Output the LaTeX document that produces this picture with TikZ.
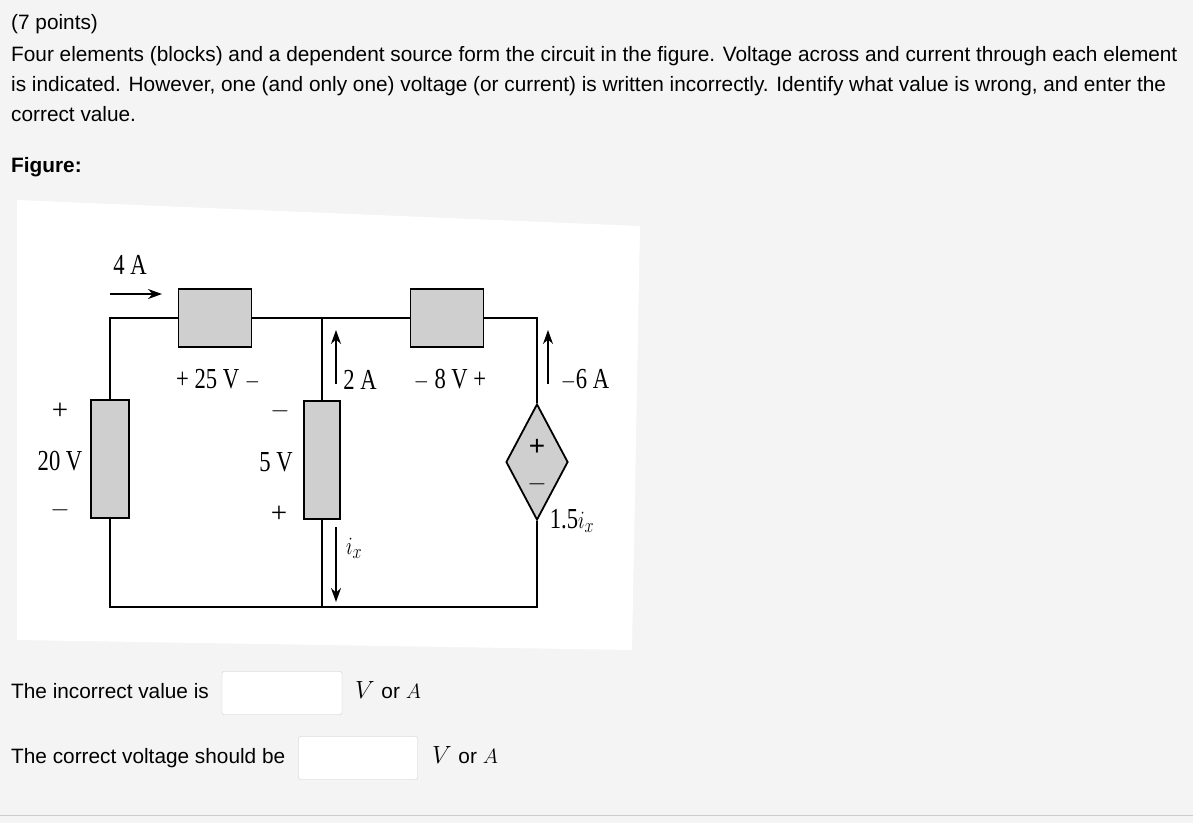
\documentclass[tikz,border=0pt]{standalone}
\usepackage{fontspec}
\setmainfont{Liberation Sans}
\newfontfamily\cfont{Liberation Serif}
\usetikzlibrary{shapes.geometric,arrows.meta}
\definecolor{bg}{HTML}{F4F4F4}
\definecolor{blk}{HTML}{CFCFCF}
\newcommand\cndl[1]{\scalebox{0.78}[1]{#1}}
\tikzset{
 txt/.style={anchor=base west,inner sep=0pt,font=\fontsize{20.8}{24}\selectfont},
 lab/.style={inner sep=0pt,font=\cfont\fontsize{29}{30}\selectfont},
 elem/.style={draw,line width=1.8pt,fill=blk},
 wire/.style={line width=1.8pt},
 carrow/.style={line width=1.6pt,-{Stealth[length=14pt,width=10pt]}},
 inbox/.style={draw=gray!40,fill=white,rounded corners=2pt}
}
\begin{document}
\begin{tikzpicture}[x=1pt,y=-1pt]
\fill[bg] (0,0) rectangle (1193,823);
\useasboundingbox (0,0) rectangle (1193,823);
\draw[gray!40] (0,815) -- (1193,815);
\node[txt] at (11,29) {(7 points)};
\node[txt] at (11,61) {Four elements (blocks) and a dependent source form the circuit in the figure. Voltage across and current through each element};
\node[txt] at (11,91) {is indicated. However, one (and only one) voltage (or current) is written incorrectly. Identify what value is wrong, and enter the};
\node[txt] at (11,121) {correct value.};
\node[txt,font=\bfseries\fontsize{20.8}{24}\selectfont] at (11,172) {Figure:};
% panel
\fill[white] (17,200) -- (640,226) -- (632,650) -- (17,640) -- cycle;
% elements
\node[elem,minimum width=73pt,minimum height=58pt] (b1) at (215,318) {};
\node[elem,minimum width=73pt,minimum height=58pt] (b2) at (447,318) {};
\node[elem,minimum width=38pt,minimum height=118pt] (b3) at (110,459) {};
\node[elem,minimum width=36pt,minimum height=118pt] (b4) at (322,460) {};
\node[elem,diamond,minimum width=62pt,minimum height=116pt,inner sep=0pt] (d) at (537,462) {};
\node[font=\fontsize{28}{28}\selectfont] at (537,447) {+};
\node[font=\fontsize{28}{28}\selectfont] at (537,484) {$-$};
% corners
\coordinate (tl) at (110,318);
\coordinate (tm) at (322,318);
\coordinate (tr) at (537,318);
\coordinate (bl) at (110,607);
\coordinate (bm) at (322,607);
\coordinate (br) at (537,607);
\draw[wire] (b3.north) -- (tl) -- (b1.west);
\draw[wire] (b1.east) -- (b2.west);
\draw[wire] (b2.east) -- (tr) -- (d.north);
\draw[wire] (tm) -- (b4.north);
\draw[wire] (b3.south) -- (bl) -- (br) -- (d.south);
\draw[wire] (b4.south) -- (bm);
% current arrows
\coordinate (a1s) at (110,294); \coordinate (a1e) at (162,294);
\draw[carrow] (a1s) -- (a1e);
\coordinate (a2s) at (336,384); \coordinate (a2e) at (336,330);
\draw[carrow] (a2s) -- (a2e);
\coordinate (a3s) at (548,384); \coordinate (a3e) at (548,330);
\draw[carrow] (a3s) -- (a3e);
\coordinate (a4s) at (336,527); \coordinate (a4e) at (336,602);
\draw[carrow] (a4s) -- (a4e);
% labels
\node[lab] at (130,265) {\cndl{4 A}};
\node[lab] at (218,380) {\cndl{+ 25 V $-$}};
\node[lab] at (360,380) {\cndl{2 A}};
\node[lab] at (450,380) {\cndl{$-$ 8 V +}};
\node[lab] at (585,380) {\cndl{$-$6 A}};
\node[lab] at (60,411) {+};
\node[lab] at (60,461) {\cndl{20 V}};
\node[lab] at (60,510) {$-$};
\node[lab] at (280,411) {$-$};
\node[lab] at (276,462) {\cndl{5 V}};
\node[lab] at (279,514) {+};
\node[lab] at (354,548) {\cndl{$i_x$}};
\node[lab] at (572,521) {\cndl{1.5$i_x$}};
% answer
\node[txt] at (11,698) {The incorrect value is};
\node[inbox,minimum width=120pt,minimum height=43pt] (in1) at (282,693) {};
\node[txt,font=\fontsize{24}{26}\selectfont] at (355,698) {$V$ \fontsize{20.8}{24}\selectfont or $A$};
\node[txt] at (11,763) {The correct voltage should be};
\node[inbox,minimum width=119pt,minimum height=43pt] (in2) at (358,758) {};
\node[txt,font=\fontsize{24}{26}\selectfont] at (432,763) {$V$ \fontsize{20.8}{24}\selectfont or $A$};
\end{tikzpicture}
\end{document}
